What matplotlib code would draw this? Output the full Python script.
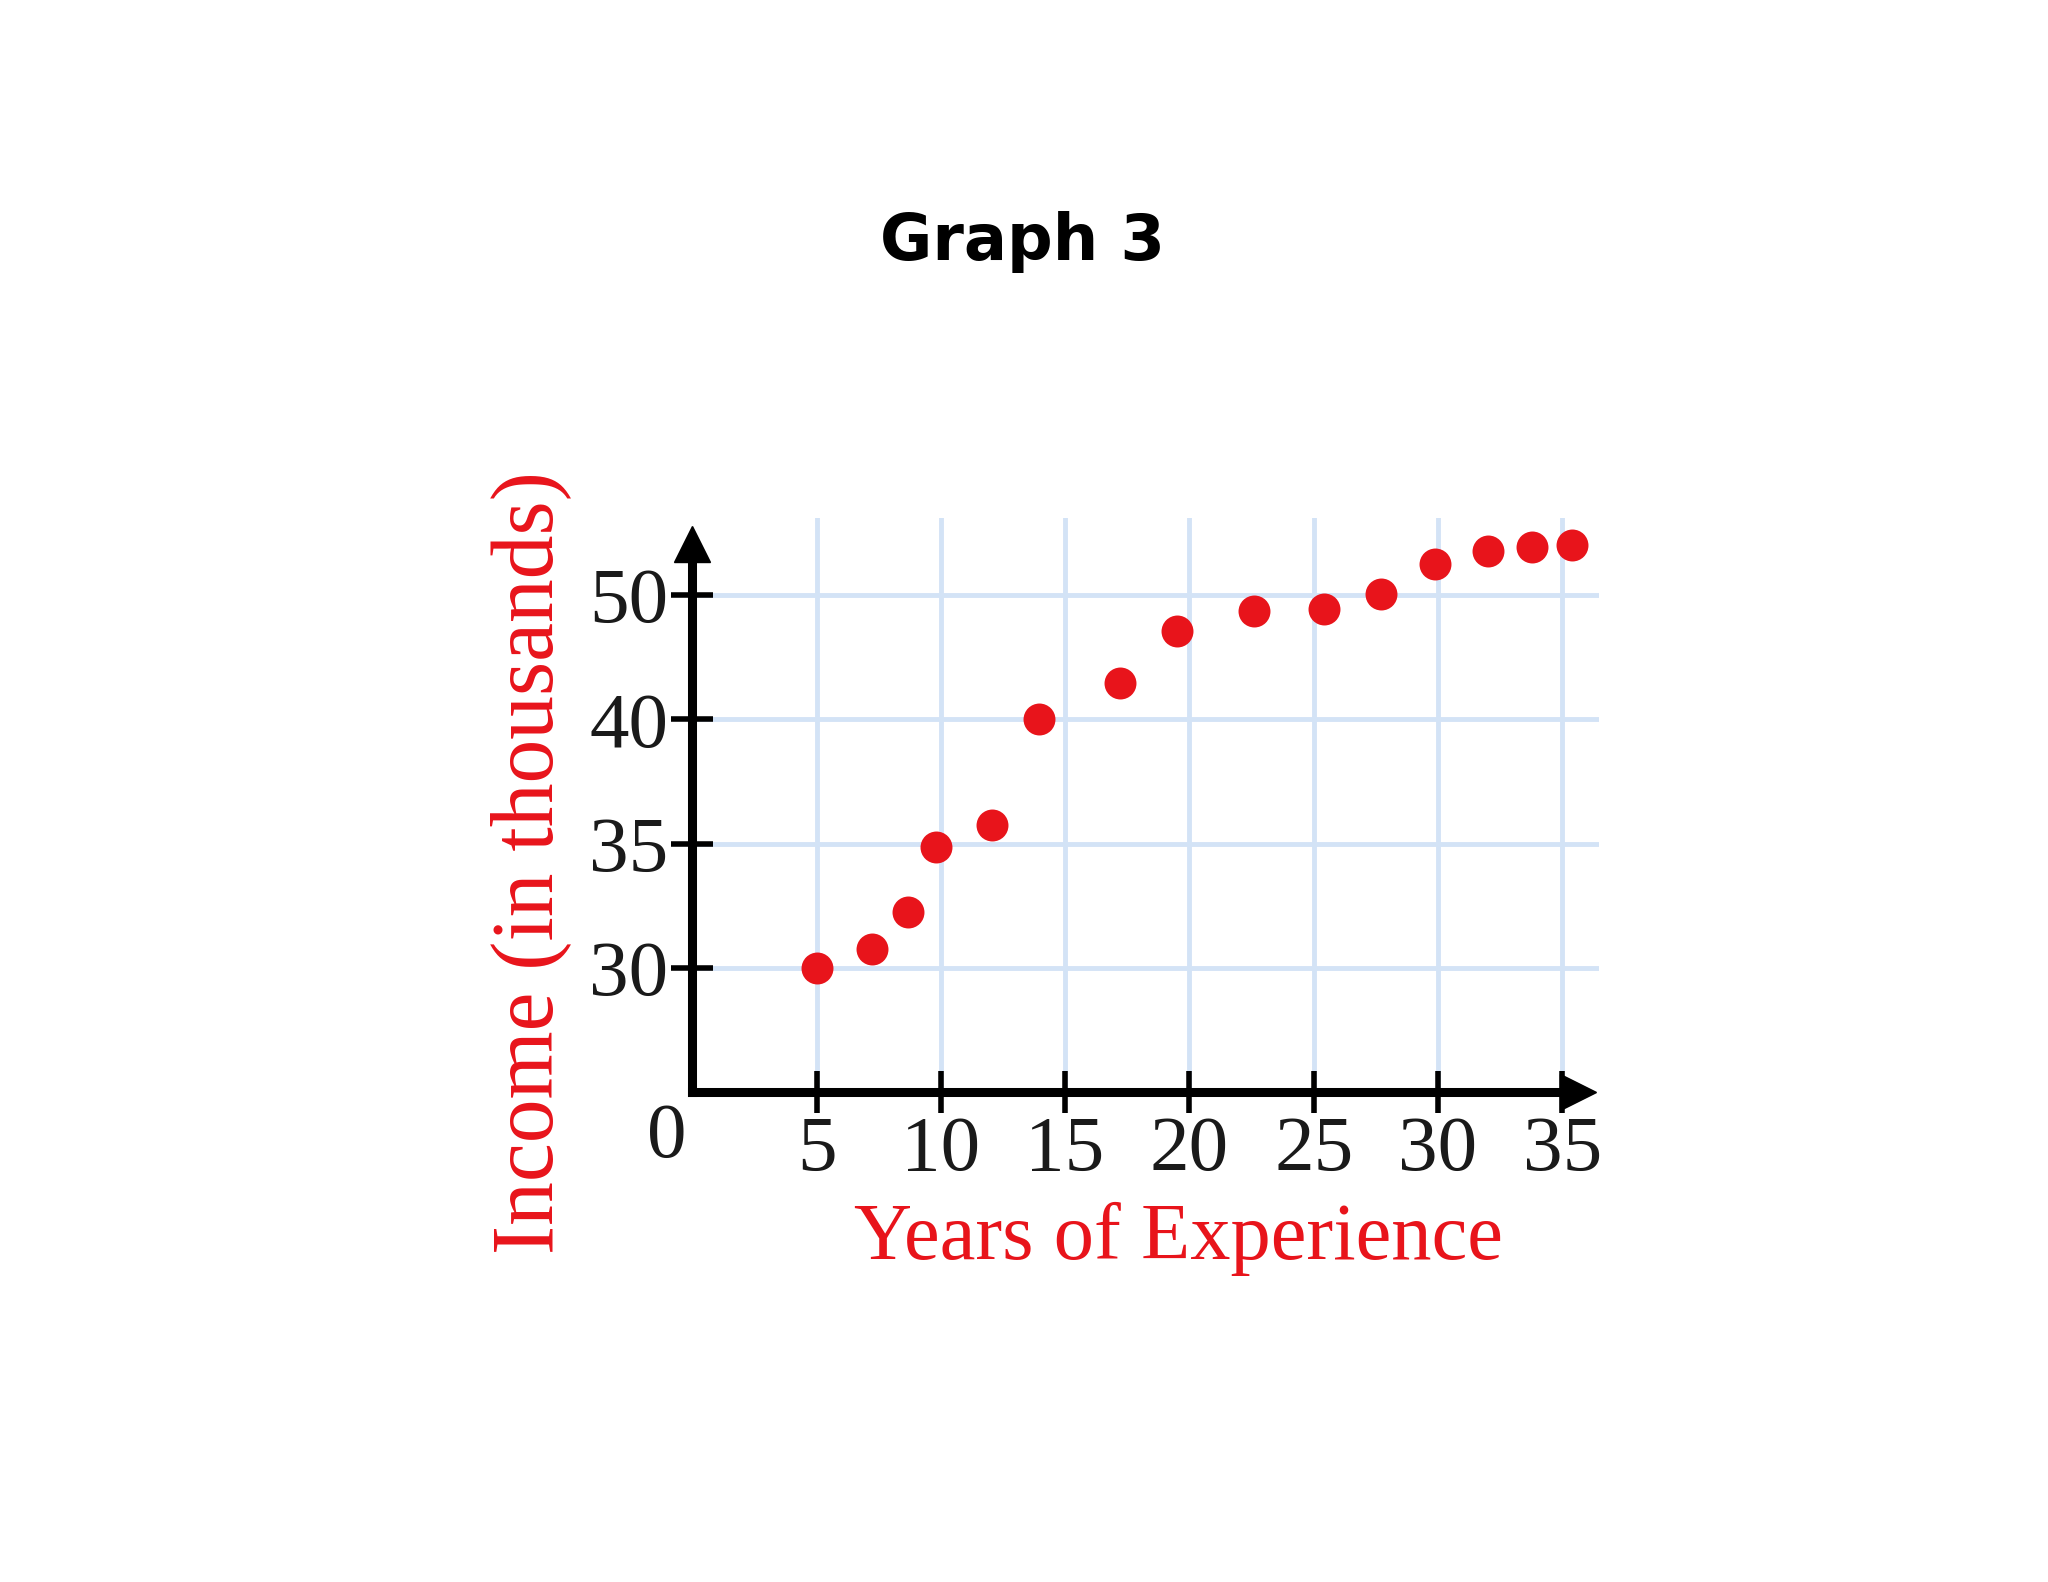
import numpy as np
import matplotlib
matplotlib.use('Agg')
import matplotlib.pyplot as plt

# data (income in thousands)
years = [5.0, 7.25, 8.7, 9.8, 12.05, 13.95, 17.2, 19.5, 22.6, 25.4, 27.7, 29.9, 32.0, 33.8, 35.4]
income = [30.0, 30.75, 32.25, 34.85, 35.75, 40.0, 42.9, 47.1, 48.7, 48.9, 50.1, 52.5, 53.5, 53.9, 54.0]
x_ticks = [5, 10, 15, 20, 25, 30, 35]
y_ticks = [30, 35, 40, 50]

RED = '#e8141b'
GRID = '#d3e3f6'


# the y axis is stretched: 30-40 in steps of 5, then 40-50 in one step
def forward(y):
    y = np.asarray(y, dtype=float)
    return np.where(y <= 40, y, 40 + (y - 40) / 2.0)


def inverse(p):
    p = np.asarray(p, dtype=float)
    return np.where(p <= 40, p, 40 + (p - 40) * 2.0)


fig = plt.figure(figsize=(20.48, 15.82), dpi=100)
ax = fig.add_axes([0.338, 0.3097, 0.443, 0.3629])
ax.set_yscale('function', functions=(forward, inverse))

ax.scatter(years, income, s=23 ** 2, color=RED, zorder=3, linewidths=0)

ax.set_xlim(0, 36.5)
ax.set_ylim(25, 56.2)
ax.set_xticks(x_ticks)
ax.set_yticks(y_ticks)
ax.set_xticklabels([str(t) for t in x_ticks])
ax.set_yticklabels([str(t) for t in y_ticks])

ax.grid(True, color=GRID, linewidth=3.5, zorder=0)
ax.tick_params(direction='inout', length=30, width=4, color='black',
               labelsize=57, labelcolor='#1a1a1a', pad=2)
for lab in ax.get_xticklabels() + ax.get_yticklabels():
    lab.set_family('Liberation Serif')

for side in ['top', 'right']:
    ax.spines[side].set_visible(False)
ax.spines['left'].set_bounds(25, 53.0)
ax.spines['bottom'].set_bounds(0, 35.3)
for side in ['left', 'bottom']:
    ax.spines[side].set_linewidth(6.5)
    ax.spines[side].set_color('black')
    ax.spines[side].set_capstyle('projecting')

# arrow heads at the ends of the axes
ax.plot(0, 0.955, marker='^', markersize=26, color='black', transform=ax.transAxes, clip_on=False)
ax.plot(0.976, 0, marker='>', markersize=26, color='black', transform=ax.transAxes, clip_on=False)

ax.text(-0.028, -0.08, '0', transform=ax.transAxes, fontsize=57, family='Liberation Serif',
        color='#1a1a1a', ha='center', va='center')

ax.set_xlabel('Years of Experience', fontsize=58, family='Liberation Serif', color=RED, va='center')
ax.xaxis.set_label_coords(0.536, -0.255)
ax.set_ylabel('Income (in thousands)', fontsize=63, family='Liberation Serif', color=RED, va='center')
ax.yaxis.set_label_coords(-0.178, 0.399)

fig.text(0.4995, 0.847, 'Graph 3', fontsize=46, fontweight='bold', family='DejaVu Sans',
         ha='center', va='center')

fig.savefig('out.png', dpi=100)
plt.close(fig)
